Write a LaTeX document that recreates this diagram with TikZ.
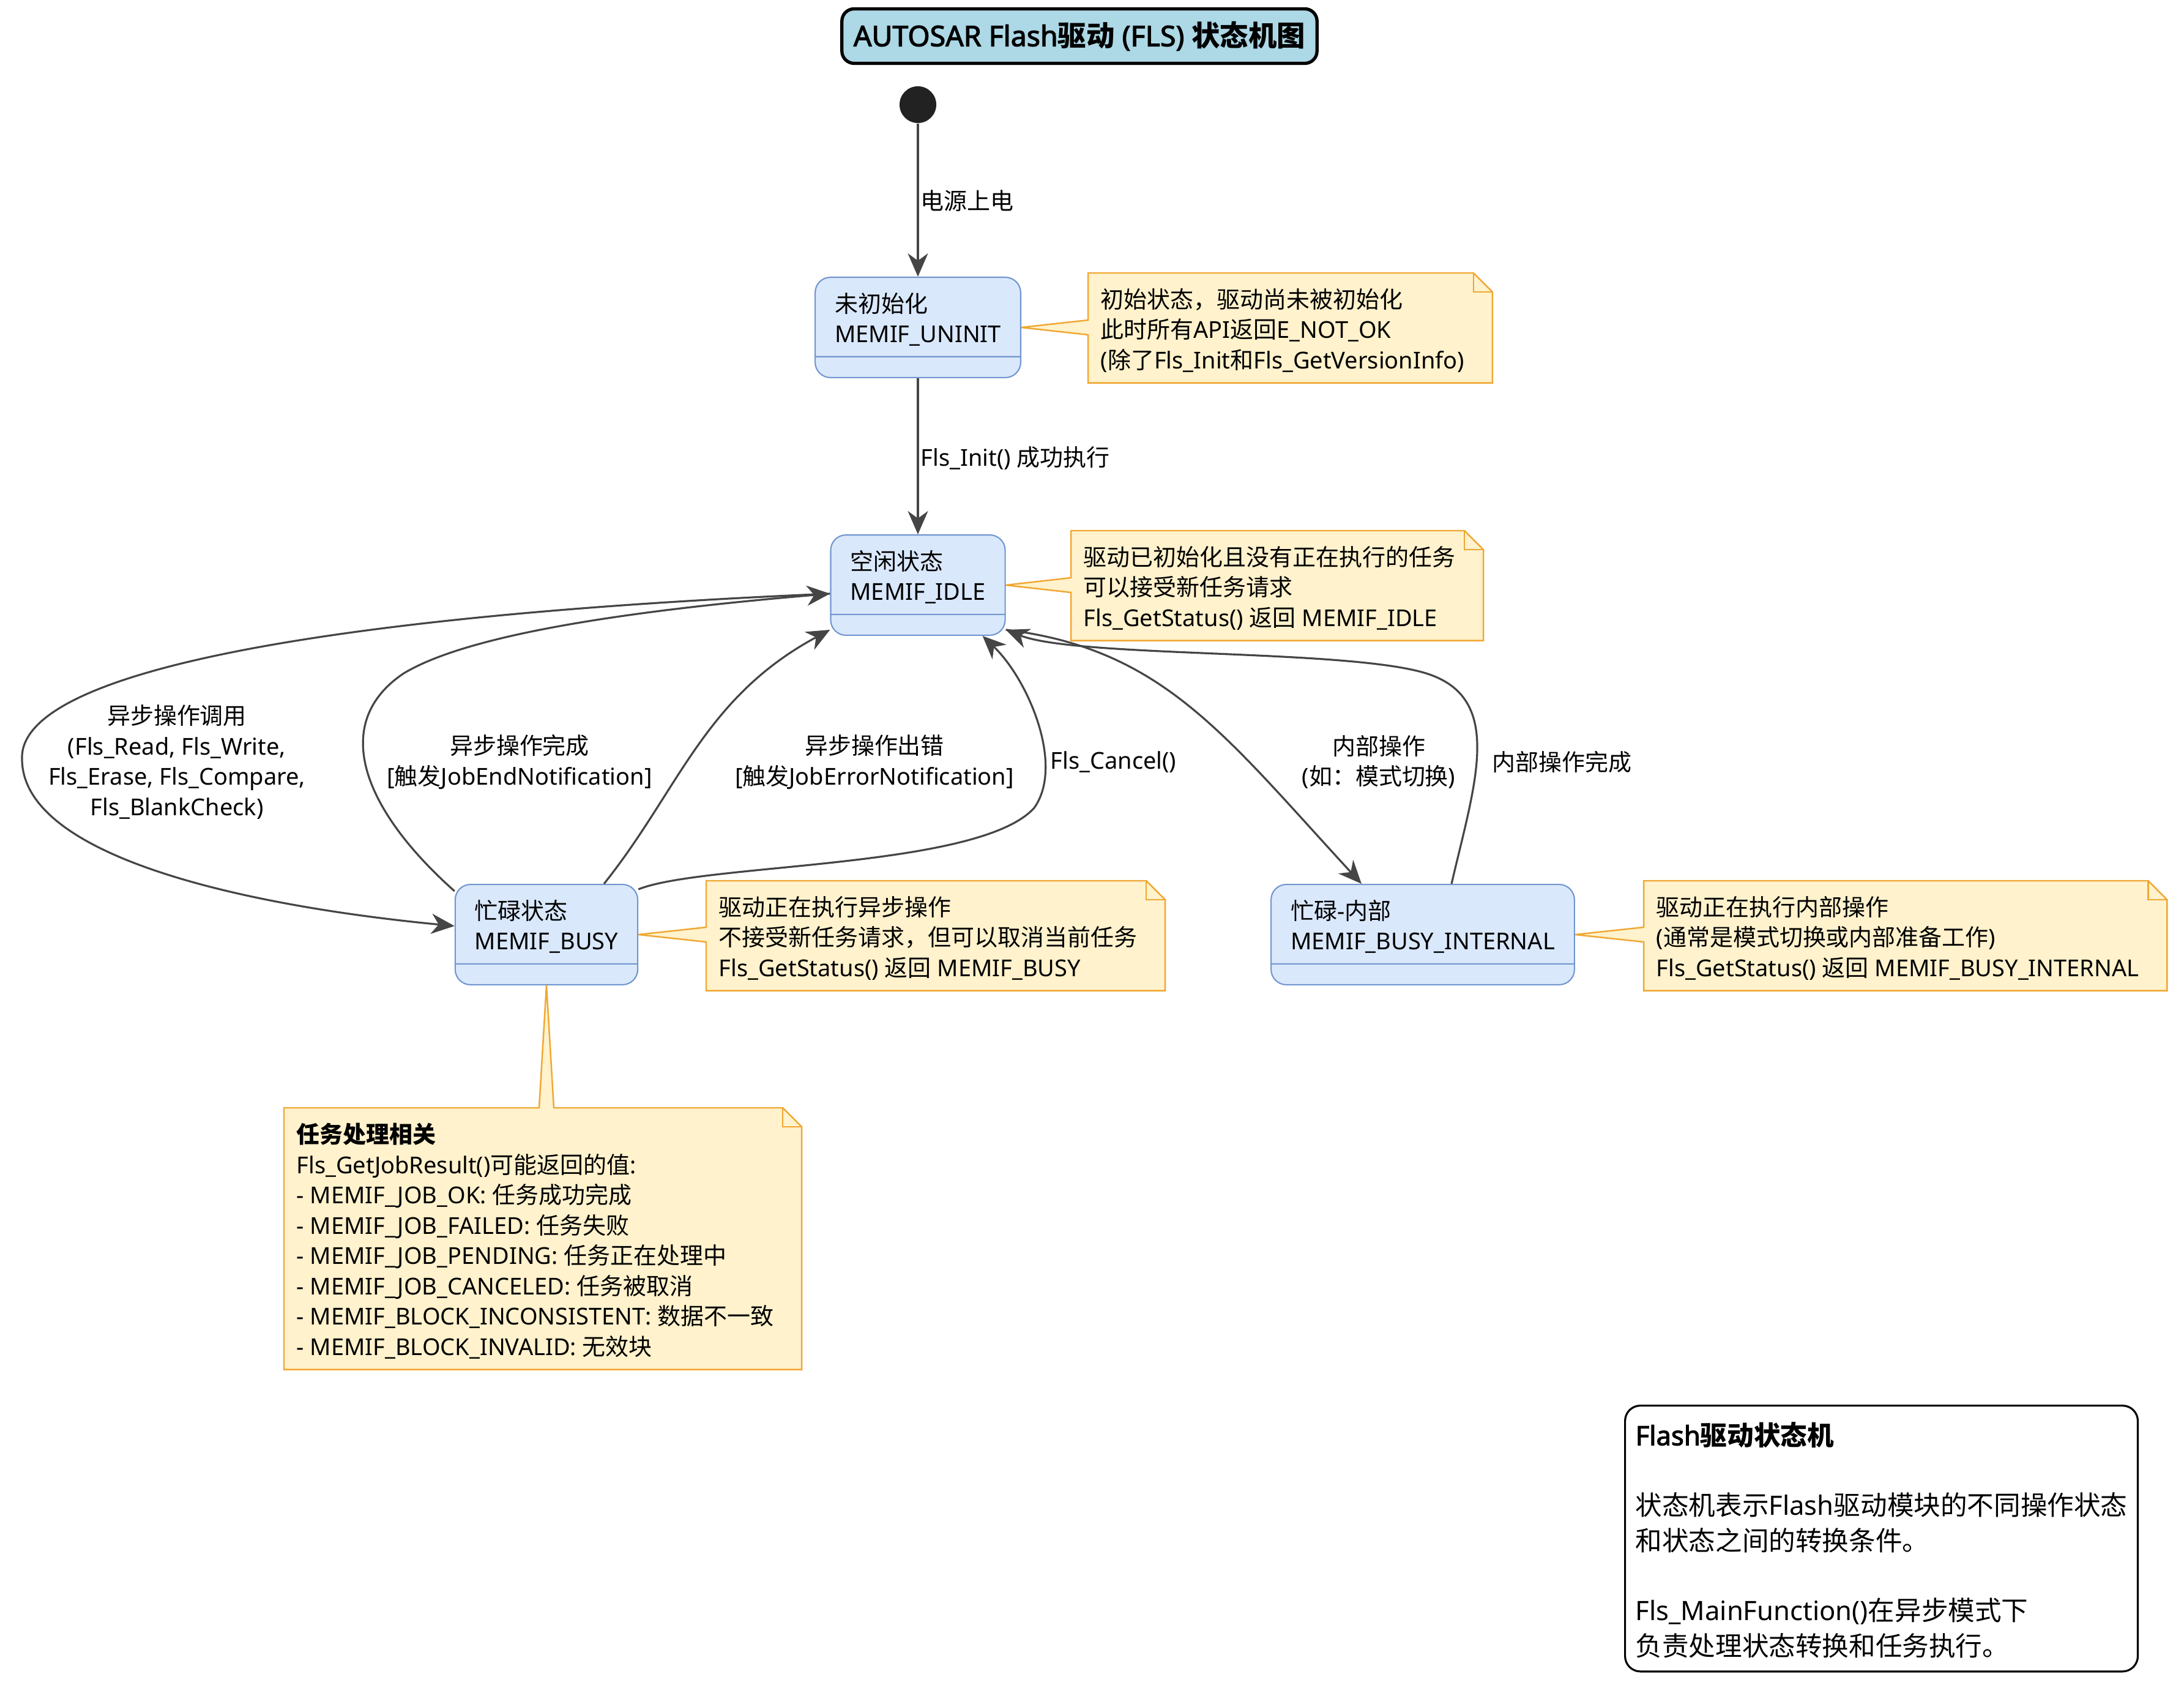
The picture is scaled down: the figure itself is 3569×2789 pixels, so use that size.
\documentclass[tikz,border=0pt]{standalone}
\usepackage{fontspec}
\setmainfont{Noto Sans}[AutoFakeBold=2.5]
\newfontfamily\cjkfamily{Noto Sans CJK SC}
% switch to the CJK font for Chinese characters
\XeTeXinterchartokenstate=1
\chardef\cjkcls=10
\newcount\cjkcnt
\newcommand\cjkrange[2]{\cjkcnt=#1\relax
  \loop\XeTeXcharclass\cjkcnt=\cjkcls\relax
  \ifnum\cjkcnt<#2\relax\advance\cjkcnt by 1\relax\repeat}
\cjkrange{"3000}{"303F}
\cjkrange{"4E00}{"9FFF}
\cjkrange{"FF00}{"FFEF}
\XeTeXinterchartoks 0 \cjkcls = {\cjkfamily}
\XeTeXinterchartoks 4095 \cjkcls = {\cjkfamily}
\XeTeXinterchartoks \cjkcls 0 = {\rmfamily}
\XeTeXinterchartoks \cjkcls 4095 = {\rmfamily}
\usetikzlibrary{arrows.meta,shapes.multipart,backgrounds}

\definecolor{statefill}{HTML}{DAE8FC}
\definecolor{stateline}{HTML}{7196CF}
\definecolor{notefill}{HTML}{FFF2CC}
\definecolor{noteline}{HTML}{F0A732}
\definecolor{titlefill}{HTML}{ADD8E6}
\definecolor{edgegray}{HTML}{454545}
\definecolor{initgray}{HTML}{222222}

\tikzset{
  state/.style={rectangle split, rectangle split parts=2, draw=stateline,
    fill=statefill, line width=0.6pt, rounded corners=0.25cm,
    inner xsep=0.32cm, inner ysep=0.14cm},
  note/.style={anchor=north west, inner xsep=0.2cm, inner ysep=0.145cm},
  notedraw/.style={draw=noteline, fill=notefill, line width=0.7pt},
  tr/.style={draw=edgegray, line width=0.9pt,
    -{Stealth[length=0.38cm,width=0.33cm,inset=0.12cm]}},
  elabel/.style={inner sep=0pt, align=center},
  titlebox/.style={draw=black, line width=1.5pt, fill=titlefill,
    rounded corners=0.2cm, minimum width=7.76cm, minimum height=0.89cm,
    font=\fontsize{13.2}{15}\selectfont\bfseries},
  legend/.style={anchor=north west, draw=black, line width=0.9pt,
    rounded corners=0.25cm, inner xsep=0.17cm, inner ysep=0.155cm,
    font=\fontsize{12.4}{16.3}\selectfont},
}

\newcommand\stname[2]{\begin{tabular}{@{}l@{}}\rule{0pt}{12pt}#1\\#2\\[-2pt]\end{tabular}%
  \nodepart{two}\rule{0pt}{0.04cm}}
\newcommand\notelines[1]{\begin{tabular}{@{}l@{\hspace{0.25cm}}}\rule{0pt}{12pt}#1\\[-2pt]\end{tabular}}
\newcommand\legendlines[1]{\begin{tabular}{@{}l@{}}\rule{0pt}{14pt}#1\\[-2pt]\end{tabular}}
% note outline with a pointer to the left and a folded corner
\newcommand\sidenote[2]{%
  \begin{scope}[on background layer]
    \path[notedraw] (#1.north west) -- ([xshift=-0.31cm]#1.north east)
      -- ([yshift=-0.31cm]#1.north east) -- (#1.south east) -- (#1.south west)
      -- ([yshift=-0.12cm]#1.west |- #2.east) -- (#2.east)
      -- ([yshift=0.12cm]#1.west |- #2.east) -- cycle;
    \draw[notedraw, fill=none] ([xshift=-0.31cm]#1.north east)
      |- ([yshift=-0.31cm]#1.north east);
  \end{scope}}

\begin{document}
\begin{tikzpicture}[x=0.01cm, y=-0.01cm, font=\fontsize{10.8}{14.1}\selectfont]
    \useasboundingbox (0,0) rectangle (3569,2789);
    % --- TITLE AND START ---
    \node[titlebox] (title) at (1764,59) {AUTOSAR Flash驱动 (FLS) 状态机图};
    \node[circle, fill=initgray, minimum size=0.6cm, inner sep=0pt] (init) at (1500,171) {};

    % --- STATES ---
    \node[state] (uninit) at (1500,535) {\stname{未初始化}{MEMIF\_UNINIT}};
    \node[state] (idle) at (1500,956) {\stname{空闲状态}{MEMIF\_IDLE}};
    \node[state] (busy) at (893,1527) {\stname{忙碌状态}{MEMIF\_BUSY}};
    \node[state] (internal) at (2325,1527) {\stname{忙碌-内部}{MEMIF\_BUSY\_INTERNAL}};

    % --- NOTES ---
    \node[note] (nuninit) at (1778,446) {\notelines{初始状态，驱动尚未被初始化\\此时所有API返回E\_NOT\_OK\\(除了Fls\_Init和Fls\_GetVersionInfo)}};
    \node[note] (nidle) at (1750,867) {\notelines{驱动已初始化且没有正在执行的任务\\可以接受新任务请求\\Fls\_GetStatus() 返回 MEMIF\_IDLE}};
    \node[note] (nbusy) at (1154,1439) {\notelines{驱动正在执行异步操作\\不接受新任务请求，但可以取消当前任务\\Fls\_GetStatus() 返回 MEMIF\_BUSY}};
    \node[note] (ninternal) at (2686,1439) {\notelines{驱动正在执行内部操作\\(通常是模式切换或内部准备工作)\\Fls\_GetStatus() 返回 MEMIF\_BUSY\_INTERNAL}};
    \node[note] (ntask) at (464,1810) {\notelines{\textbf{任务处理相关}\\Fls\_GetJobResult()可能返回的值:\\- MEMIF\_JOB\_OK: 任务成功完成\\- MEMIF\_JOB\_FAILED: 任务失败\\- MEMIF\_JOB\_PENDING: 任务正在处理中\\- MEMIF\_JOB\_CANCELED: 任务被取消\\- MEMIF\_BLOCK\_INCONSISTENT: 数据不一致\\- MEMIF\_BLOCK\_INVALID: 无效块}};
    \sidenote{nuninit}{uninit}
    \sidenote{nidle}{idle}
    \sidenote{nbusy}{busy}
    \sidenote{ninternal}{internal}
    \coordinate (tbase) at (busy.south |- ntask.north);
    \begin{scope}[on background layer]
        \path[notedraw] (ntask.north west) -- ([xshift=-0.12cm]tbase) -- (busy.south)
          -- ([xshift=0.12cm]tbase) -- ([xshift=-0.31cm]ntask.north east)
          -- ([yshift=-0.31cm]ntask.north east) -- (ntask.south east)
          -- (ntask.south west) -- cycle;
        \draw[notedraw, fill=none] ([xshift=-0.31cm]ntask.north east)
          |- ([yshift=-0.31cm]ntask.north east);
    \end{scope}

    % --- TRANSITIONS ---
    \draw[tr] (init) -- (uninit);
    \draw[tr] (uninit) -- (idle);
    \draw[tr] ([yshift=-0.14cm]idle.west) .. controls (650,1000) and (30,1080) .. (36,1240)
        .. controls (36,1400) and (400,1480) .. ([yshift=0.14cm]busy.west);
    \draw[tr] ([yshift=-0.12cm]busy.north west) .. controls (590,1320) and (540,1180) .. (660,1100)
        .. controls (760,1040) and (1000,1000) .. ([yshift=-0.14cm]idle.west);
    \draw[tr] ([xshift=0.94cm]busy.north) .. controls (1110,1290) and (1150,1140) .. ([yshift=0.1cm]idle.south west);
    \draw[tr] ([yshift=-0.09cm]busy.north east) .. controls (1150,1410) and (1600,1420) .. (1690,1320)
        .. controls (1740,1250) and (1680,1110) .. ([xshift=-0.38cm]idle.south east);
    \draw[tr] ([yshift=0.1cm]idle.south east) .. controls (1900,1060) and (2000,1200) .. ([xshift=-1cm]internal.north);
    \draw[tr] ([xshift=0.47cm]internal.north) .. controls (2410,1280) and (2460,1140) .. (2330,1100)
        .. controls (2200,1060) and (1760,1075) .. ([yshift=0.1cm]idle.south east);

    % --- LABELS ---
    \node[elabel, anchor=west] (lpower) at (1504,328) {电源上电};
    \node[elabel, anchor=west] (linit) at (1504,749) {Fls\_Init() 成功执行};
    \node[elabel] (lcall) at (289,1245) {异步操作调用\\(Fls\_Read, Fls\_Write,\\Fls\_Erase, Fls\_Compare,\\Fls\_BlankCheck)};
    \node[elabel] (ldone) at (849,1245) {异步操作完成\\{[}触发JobEndNotification]};
    \node[elabel] (lerror) at (1429,1245) {异步操作出错\\{[}触发JobErrorNotification]};
    \node[elabel, anchor=west] (lcancel) at (1716,1245) {Fls\_Cancel()};
    \node[elabel] (linternal) at (2253,1245) {内部操作\\(如：模式切换)};
    \node[elabel, anchor=west] (linternaldone) at (2438,1245) {内部操作完成};

    % --- LEGEND ---
    \node[legend] (legend) at (2654,2295) {\legendlines{\textbf{Flash驱动状态机}\\ \\状态机表示Flash驱动模块的不同操作状态\\和状态之间的转换条件。\\ \\Fls\_MainFunction()在异步模式下\\负责处理状态转换和任务执行。}};
\end{tikzpicture}
\end{document}
